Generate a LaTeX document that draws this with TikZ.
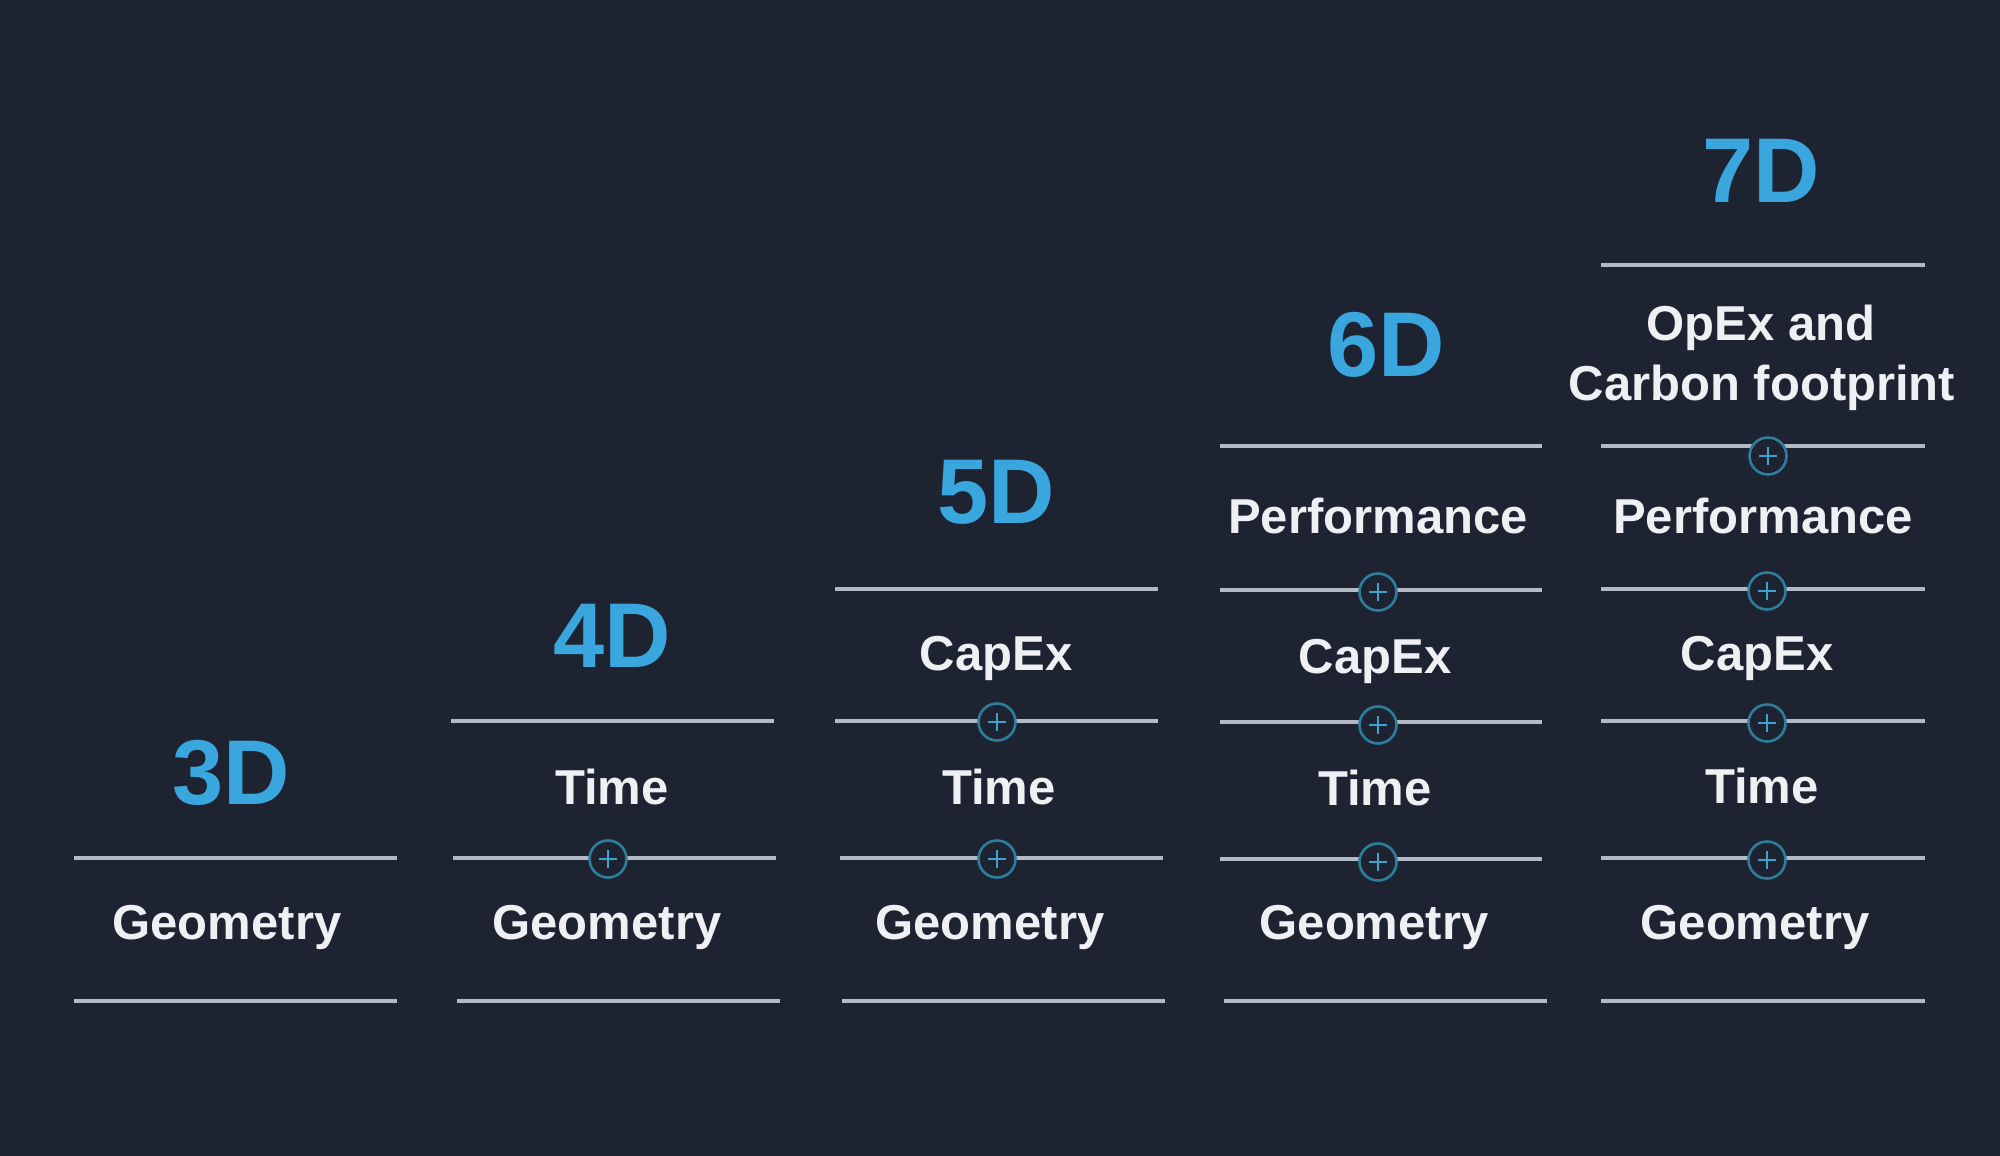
\documentclass[tikz,border=0pt]{standalone}
\usepackage{fontspec}
\setmainfont{Liberation Sans}
\definecolor{bg}{HTML}{1D2331}
\definecolor{dimblue}{HTML}{3AA6DE}
\definecolor{txt}{HTML}{EEF0F4}
\definecolor{sep}{HTML}{B3B9C5}
\definecolor{ring}{HTML}{2C7E9C}
\definecolor{plusc}{HTML}{3EA2CF}
\begin{document}
\begin{tikzpicture}[x=1pt,y=-1pt,
  lbl/.style={anchor=base, inner sep=0pt, text=txt, font=\fontsize{49}{56}\selectfont\bfseries},
  dimlbl/.style={anchor=base, inner sep=0pt, text=dimblue, font=\fontsize{92}{100}\selectfont\bfseries},
  sepline/.style={draw=sep, line width=3.5pt},
  plusnode/.style={circle, draw=ring, fill=bg, line width=2.6pt, minimum size=37pt, inner sep=0pt,
    path picture={\draw[plusc, line width=2.2pt]
      ([xshift=-9pt]path picture bounding box.center) -- ([xshift=9pt]path picture bounding box.center)
      ([yshift=-9pt]path picture bounding box.center) -- ([yshift=9pt]path picture bounding box.center);}}
]
\fill[bg] (0,0) rectangle (2000,1156);
\useasboundingbox (0,0) rectangle (2000,1156);

% ---------- Column 3D ----------
\draw[sepline] (74,858) -- (397,858);
\draw[sepline] (74,1001) -- (397,1001);
\node[dimlbl] (d3) at (231,804) {3D};
\node[lbl] (c1geo) at (227,939) {Geometry};

% ---------- Column 4D ----------
\draw[sepline] (451,721) -- (774,721);
\draw[sepline] (453,858) -- (776,858);
\draw[sepline] (457,1001) -- (780,1001);
\node[dimlbl] (d4) at (612,667) {4D};
\node[lbl] (c2time) at (612,804) {Time};
\node[lbl] (c2geo) at (607,939) {Geometry};
\node[plusnode] (c2p1) at (608,859) {};

% ---------- Column 5D ----------
\draw[sepline] (835,589) -- (1158,589);
\draw[sepline] (835,721) -- (1158,721);
\draw[sepline] (840,858) -- (1163,858);
\draw[sepline] (842,1001) -- (1165,1001);
\node[dimlbl] (d5) at (996,523) {5D};
\node[lbl] (c3cap) at (996,670) {CapEx};
\node[lbl] (c3time) at (999,804) {Time};
\node[lbl] (c3geo) at (990,939) {Geometry};
\node[plusnode] (c3p1) at (997,722) {};
\node[plusnode] (c3p2) at (997,859) {};

% ---------- Column 6D ----------
\draw[sepline] (1220,446) -- (1542,446);
\draw[sepline] (1220,590) -- (1542,590);
\draw[sepline] (1220,722) -- (1542,722);
\draw[sepline] (1220,859) -- (1542,859);
\draw[sepline] (1224,1001) -- (1547,1001);
\node[dimlbl] (d6) at (1386,376) {6D};
\node[lbl] (c4perf) at (1378,533) {Performance};
\node[lbl] (c4cap) at (1375,673) {CapEx};
\node[lbl] (c4time) at (1375,805) {Time};
\node[lbl] (c4geo) at (1374,939) {Geometry};
\node[plusnode] (c4p1) at (1378,592) {};
\node[plusnode] (c4p2) at (1378,725) {};
\node[plusnode] (c4p3) at (1378,862) {};

% ---------- Column 7D ----------
\draw[sepline] (1601,265) -- (1925,265);
\draw[sepline] (1601,446) -- (1925,446);
\draw[sepline] (1601,589) -- (1925,589);
\draw[sepline] (1601,721) -- (1925,721);
\draw[sepline] (1601,858) -- (1925,858);
\draw[sepline] (1601,1001) -- (1925,1001);
\node[dimlbl] (d7) at (1761,202) {7D};
\node[lbl] (c5opex) at (1761,340) {OpEx and};
\node[lbl] (c5carb) at (1762,400) {Carbon footprint};
\node[lbl] (c5perf) at (1763,533) {Performance};
\node[lbl] (c5cap) at (1757,670) {CapEx};
\node[lbl] (c5time) at (1762,803) {Time};
\node[lbl] (c5geo) at (1755,939) {Geometry};
\node[plusnode] (c5p1) at (1768,456) {};
\node[plusnode] (c5p2) at (1767,591) {};
\node[plusnode] (c5p3) at (1767,723) {};
\node[plusnode] (c5p4) at (1767,860) {};
\end{tikzpicture}
\end{document}
